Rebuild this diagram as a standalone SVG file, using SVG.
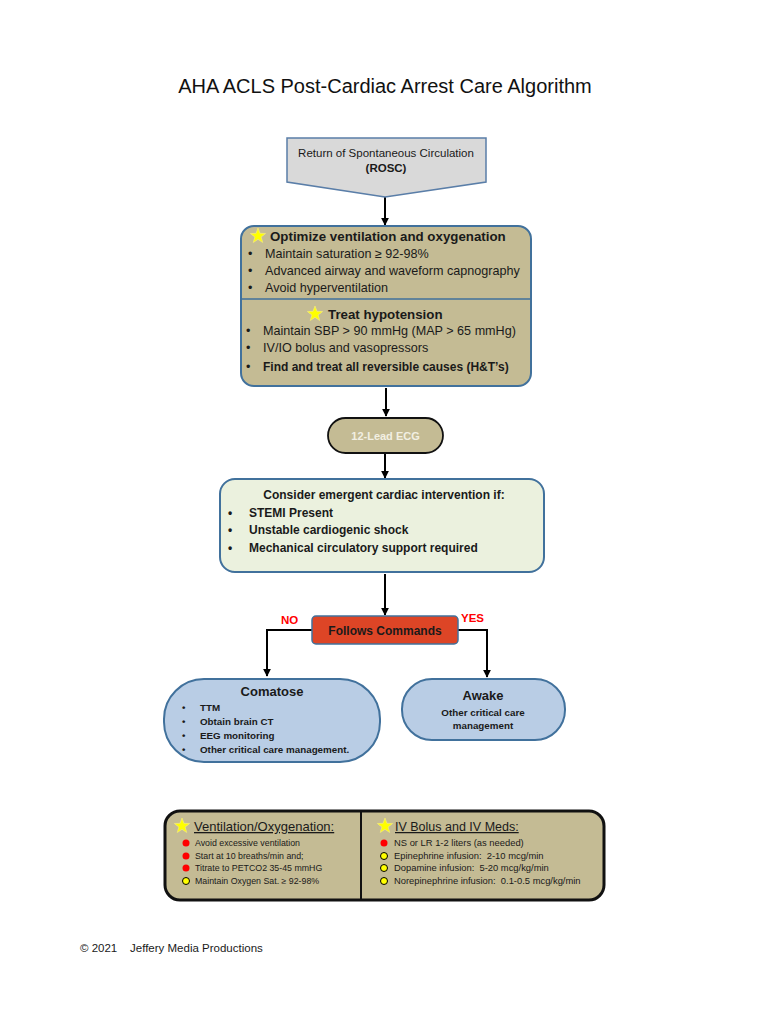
<svg xmlns="http://www.w3.org/2000/svg" xmlns:xlink="http://www.w3.org/1999/xlink" width="768" height="1024" viewBox="0 0 768 1024">
<defs>
<style>
text{font-family:"Liberation Sans","Open Sans",sans-serif;fill:#1a1a1a}
.b{font-weight:bold}
.title{font-size:20px;fill:#111}
.t12{font-size:12px;font-weight:bold}
.h13{font-size:13.3px;font-weight:bold}
.n12{font-size:12.6px}
.t11{font-size:11.5px}
.t10{font-size:9.8px;font-weight:bold}
.t8{font-size:8.8px}
.t9{font-size:9.4px}
.conn{stroke:#000;stroke-width:2;fill:none}
.red{fill:#ff0000;font-weight:bold;font-size:11.5px}
</style>
<marker id="ah" viewBox="0 0 10 10" refX="9" refY="5" markerWidth="4" markerHeight="4" orient="auto">
<path d="M0,0 L10,5 L0,10 z" fill="#000"/>
</marker>
<polygon id="star" points="0,-8 1.94,-2.67 7.61,-2.47 3.14,1.02 4.7,6.47 0,3.3 -4.7,6.47 -3.14,1.02 -7.61,-2.47 -1.94,-2.67" fill="#ffff00" stroke="#f2ea7a" stroke-width="0.8"/>
</defs>
<rect width="768" height="1024" fill="#fff"/>
<text class="title" x="385" y="93" text-anchor="middle">AHA ACLS Post-Cardiac Arrest Care Algorithm</text>

<g id="connectors">
<line class="conn" x1="385" y1="197" x2="385" y2="225" marker-end="url(#ah)"/>
<line class="conn" x1="386" y1="388" x2="386" y2="416" marker-end="url(#ah)"/>
<line class="conn" x1="385" y1="454" x2="385" y2="478" marker-end="url(#ah)"/>
<line class="conn" x1="385" y1="574" x2="385" y2="615" marker-end="url(#ah)"/>
<polyline class="conn" points="312,630 267,630 267,676" marker-end="url(#ah)"/>
<polyline class="conn" points="458,630 487,630 487,677" marker-end="url(#ah)"/>
</g>

<g id="rosc">
<polygon points="287,138 486,138 486,182 385,197 287,182" fill="#d9d9d9" stroke="#5a7ea8" stroke-width="1.5"/>
<text class="t11" x="386" y="157" text-anchor="middle">Return of Spontaneous Circulation</text>
<text class="t11 b" x="386" y="172" text-anchor="middle">(ROSC)</text>
</g>

<g id="optimize">
<rect x="241" y="226" width="290" height="160" rx="13" fill="#c4bb94" stroke="#41719c" stroke-width="2"/>
<line x1="241" y1="299" x2="531" y2="299" stroke="#41719c" stroke-width="1.5"/>
<use xlink:href="#star" x="258" y="236"/>
<text class="h13" x="270" y="241">Optimize ventilation and oxygenation</text>
<text class="n12" x="248" y="258">•</text><text class="n12" x="265" y="258">Maintain saturation ≥ 92-98%</text>
<text class="n12" x="248" y="275">•</text><text class="n12" x="265" y="275">Advanced airway and waveform capnography</text>
<text class="n12" x="248" y="292">•</text><text class="n12" x="265" y="292">Avoid hyperventilation</text>
<use xlink:href="#star" x="315" y="314"/>
<text class="h13" x="328" y="319">Treat hypotension</text>
<text class="n12" x="246" y="335">•</text><text class="n12" x="263" y="335">Maintain SBP &gt; 90 mmHg (MAP &gt; 65 mmHg)</text>
<text class="n12" x="246" y="352">•</text><text class="n12" x="263" y="352">IV/IO bolus and vasopressors</text>
<text class="n12" x="246" y="371">•</text><text class="t12" x="263" y="371">Find and treat all reversible causes (H&amp;T’s)</text>
</g>

<g id="ecg">
<rect x="328" y="418" width="115" height="35" rx="17.5" fill="#c4bb94" stroke="#111" stroke-width="1.8"/>
<text class="t11 b" x="385.5" y="439.5" text-anchor="middle" style="fill:#f2efe2;font-size:11px">12-Lead ECG</text>
</g>

<g id="consider">
<rect x="220" y="479" width="324" height="93" rx="15" fill="#ebf1de" stroke="#41719c" stroke-width="2"/>
<text class="t12" x="384" y="499" text-anchor="middle">Consider emergent cardiac intervention if:</text>
<text class="t12" x="228" y="517">•</text><text class="t12" x="249" y="517">STEMI Present</text>
<text class="t12" x="228" y="534">•</text><text class="t12" x="249" y="534">Unstable cardiogenic shock</text>
<text class="t12" x="228" y="552">•</text><text class="t12" x="249" y="552">Mechanical circulatory support required</text>
</g>

<g id="follows">
<rect x="312" y="616" width="146" height="28" rx="4" fill="#dd4526" stroke="#41719c" stroke-width="1.5"/>
<text class="t12" x="385" y="634.5" text-anchor="middle">Follows Commands</text>
<text class="red" x="281" y="624">NO</text>
<text class="red" x="461" y="622">YES</text>
</g>

<g id="comatose">
<rect x="164" y="679" width="216" height="83" rx="40" fill="#b9cde5" stroke="#41719c" stroke-width="2"/>
<text class="b" x="272" y="696" text-anchor="middle" font-size="13">Comatose</text>
<text class="t10" x="182" y="711">•</text><text class="t10" x="200" y="711">TTM</text>
<text class="t10" x="182" y="725">•</text><text class="t10" x="200" y="725">Obtain brain CT</text>
<text class="t10" x="182" y="739">•</text><text class="t10" x="200" y="739">EEG monitoring</text>
<text class="t10" x="182" y="753">•</text><text class="t10" x="200" y="753">Other critical care management.</text>
</g>

<g id="awake">
<rect x="402" y="679" width="163" height="61" rx="30" fill="#b9cde5" stroke="#41719c" stroke-width="2"/>
<text class="b" x="483" y="700" text-anchor="middle" font-size="13">Awake</text>
<text class="t10" x="483" y="716" text-anchor="middle">Other critical care</text>
<text class="t10" x="483" y="729" text-anchor="middle">management</text>
</g>

<g id="legend">
<rect x="165" y="811" width="439" height="89" rx="15" fill="#c4bb94" stroke="#111" stroke-width="3"/>
<line x1="361" y1="811" x2="361" y2="900" stroke="#111" stroke-width="2"/>
<use xlink:href="#star" x="182" y="826"/>
<text x="194" y="831" font-size="13" text-decoration="underline">Ventilation/Oxygenation:</text>
<circle cx="186" cy="843" r="3.5" fill="#ff0000"/><text class="t8" x="195" y="846">Avoid excessive ventilation</text>
<circle cx="186" cy="856" r="3.5" fill="#ff0000"/><text class="t8" x="195" y="859">Start at 10 breaths/min and;</text>
<circle cx="186" cy="868" r="3.5" fill="#ff0000"/><text class="t8" x="195" y="871">Titrate to PETCO2 35-45 mmHG</text>
<circle cx="186" cy="881" r="3.5" fill="#ffff00" stroke="#000" stroke-width="1"/><text class="t8" x="195" y="884">Maintain Oxygen Sat. ≥ 92-98%</text>
<use xlink:href="#star" x="385" y="826"/>
<text x="395" y="831" font-size="12.5" text-decoration="underline">IV Bolus and IV Meds:</text>
<circle cx="384" cy="843" r="3.5" fill="#ff0000"/><text class="t9" x="394" y="846">NS or LR 1-2 liters (as needed)</text>
<circle cx="384" cy="856" r="3.5" fill="#ffff00" stroke="#000" stroke-width="1"/><text class="t9" x="394" y="859" xml:space="preserve">Epinephrine infusion:  2-10 mcg/min</text>
<circle cx="384" cy="868" r="3.5" fill="#ffff00" stroke="#000" stroke-width="1"/><text class="t9" x="394" y="871" xml:space="preserve">Dopamine infusion:  5-20 mcg/kg/min</text>
<circle cx="384" cy="881" r="3.5" fill="#ffff00" stroke="#000" stroke-width="1"/><text class="t9" x="394" y="884" xml:space="preserve">Norepinephrine infusion:  0.1-0.5 mcg/kg/min</text>
</g>

<text x="80" y="952" font-size="11.5" xml:space="preserve">© 2021    Jeffery Media Productions</text>
</svg>
